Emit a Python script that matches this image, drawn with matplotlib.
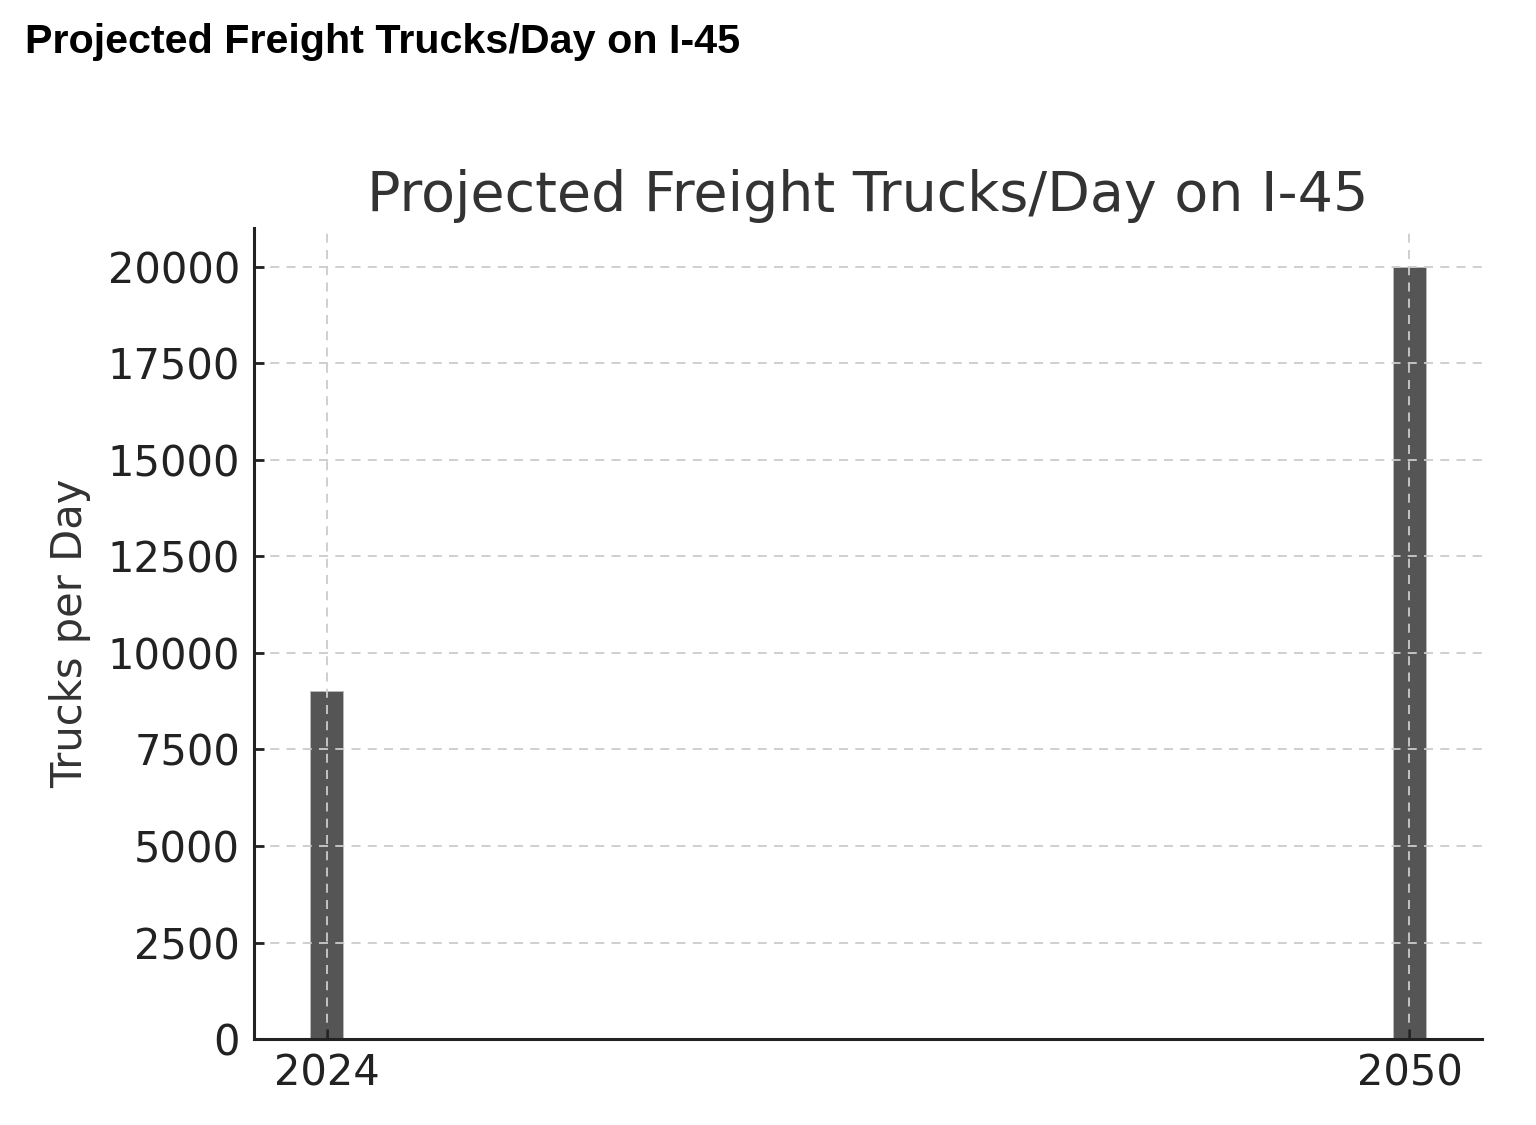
import matplotlib
matplotlib.use('Agg')
import matplotlib.pyplot as plt

############################################################################################
# data
years  = [2024, 2050]
trucks = [9000, 20000]
title  = 'Projected Freight Trucks/Day on I-45'

############################################################################################
fig = plt.figure(figsize=(15.36, 11.25), dpi=100)
ax  = fig.add_axes([0.1654, 0.0764, 0.7994, 0.7209])

ax.bar(years, trucks, width=0.8, color='#555555', edgecolor='#bbbbbb', linewidth=0.6, zorder=1)
ax.grid(True, linestyle='--', color='#cccccc', linewidth=1.3, dashes=(5, 4))
ax.set_axisbelow(False)
ax.set_xticks(years)
ax.set_yticks(range(0, 20001, 2500))
ax.tick_params(direction='in', length=7, width=2, labelsize=30, colors='#222222', pad=10)
ax.spines['top'].set_visible(False)
ax.spines['right'].set_visible(False)
for s in ('left', 'bottom'):
    ax.spines[s].set_linewidth(2.2)
    ax.spines[s].set_color('#222222')
    ax.spines[s].set_zorder(3)
ax.set_ylabel('Trucks per Day', fontsize=30, color='#333333', labelpad=12)
ax.set_title(title, fontsize=40, color='#333333', pad=12)

# outer heading, top left
fig.text(25 / 1536, 1 - 42 / 1125, title, fontsize=29.7, fontweight='bold',
         family='Liberation Sans', va='center', ha='left', color='black')

fig.savefig('out.png', dpi=100)
